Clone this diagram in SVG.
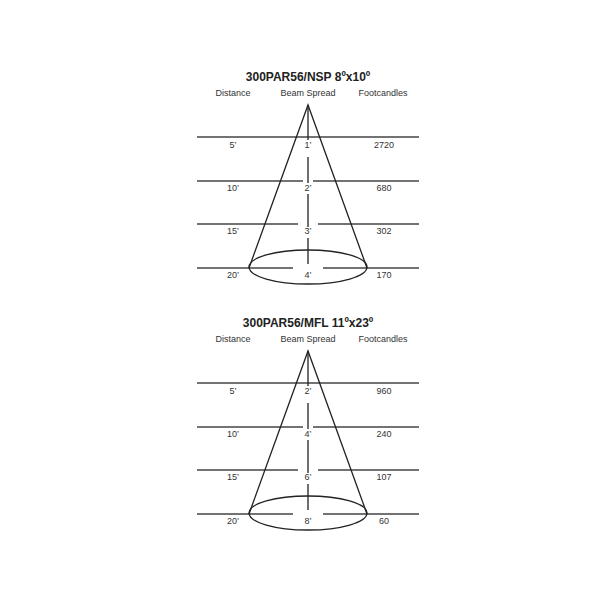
<svg xmlns="http://www.w3.org/2000/svg" width="600" height="600" viewBox="0 0 600 600">
<style>
.t{font-family:"Liberation Sans",Arial,sans-serif;font-size:12px;font-weight:bold;fill:#222;text-anchor:middle}
.h{font-family:"Liberation Sans",Arial,sans-serif;font-size:9px;fill:#333;text-anchor:middle}
.l{font-family:"Liberation Sans",Arial,sans-serif;font-size:9px;fill:#333;text-anchor:middle}
.r{stroke:#444;stroke-width:1.4;fill:none}
.c{stroke:#222;stroke-width:1.3;fill:none}
</style>
<rect width="600" height="600" fill="#fff"/>
<g id="nsp">
<text class="t" x="308" y="81">300PAR56/NSP 8ºx10º</text>
<text class="h" x="233" y="96">Distance</text>
<text class="h" x="308" y="96">Beam Spread</text>
<text class="h" x="383" y="96">Footcandles</text>
<g id="nsp-lines">
<line class="r" x1="197" y1="137" x2="419" y2="137"/>
<line class="r" x1="197" y1="181" x2="303" y2="181"/><line class="r" x1="313" y1="181" x2="419" y2="181"/>
<line class="r" x1="197" y1="224" x2="298" y2="224"/><line class="r" x1="318" y1="224" x2="419" y2="224"/>
<line class="r" x1="197" y1="268" x2="293" y2="268"/><line class="r" x1="323" y1="268" x2="419" y2="268"/>
<path class="c" d="M249,268 L308,105 L367,268"/>
<ellipse class="c" cx="308" cy="267" rx="59" ry="17"/>
<path class="c" d="M308,105 V140 M308,157 V183 M308,194 V227 M308,238 V264"/>
</g>
<text class="l" x="233" y="148">5’</text><text class="l" x="308" y="148">1’</text><text class="l" x="384" y="148">2720</text>
<text class="l" x="233" y="191">10’</text><text class="l" x="308" y="191">2’</text><text class="l" x="384" y="191">680</text>
<text class="l" x="233" y="234">15’</text><text class="l" x="308" y="234">3’</text><text class="l" x="384" y="234">302</text>
<text class="l" x="233" y="278">20’</text><text class="l" x="308" y="278">4’</text><text class="l" x="384" y="278">170</text>
</g>
<g id="mfl" transform="translate(0,246)">
<text class="t" x="308" y="81">300PAR56/MFL 11ºx23º</text>
<text class="h" x="233" y="96">Distance</text>
<text class="h" x="308" y="96">Beam Spread</text>
<text class="h" x="383" y="96">Footcandles</text>
<g id="mfl-lines">
<line class="r" x1="197" y1="137" x2="419" y2="137"/>
<line class="r" x1="197" y1="181" x2="303" y2="181"/><line class="r" x1="313" y1="181" x2="419" y2="181"/>
<line class="r" x1="197" y1="224" x2="298" y2="224"/><line class="r" x1="318" y1="224" x2="419" y2="224"/>
<line class="r" x1="197" y1="268" x2="293" y2="268"/><line class="r" x1="323" y1="268" x2="419" y2="268"/>
<path class="c" d="M249,268 L308,105 L367,268"/>
<ellipse class="c" cx="308" cy="267" rx="59" ry="17"/>
<path class="c" d="M308,105 V140 M308,157 V183 M308,194 V227 M308,238 V264"/>
</g>
<text class="l" x="233" y="148">5’</text><text class="l" x="308" y="148">2’</text><text class="l" x="384" y="148">960</text>
<text class="l" x="233" y="191">10’</text><text class="l" x="308" y="191">4’</text><text class="l" x="384" y="191">240</text>
<text class="l" x="233" y="234">15’</text><text class="l" x="308" y="234">6’</text><text class="l" x="384" y="234">107</text>
<text class="l" x="233" y="278">20’</text><text class="l" x="308" y="278">8’</text><text class="l" x="384" y="278">60</text>
</g>
</svg>
